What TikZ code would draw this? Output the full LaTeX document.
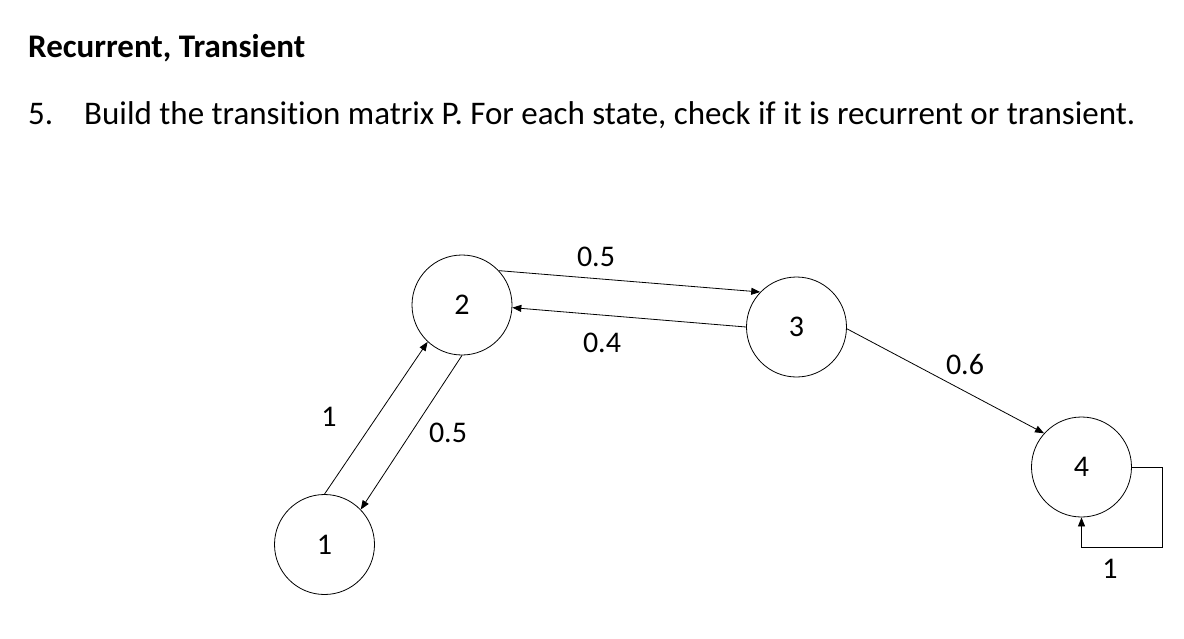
\documentclass[tikz,border=0pt]{standalone}
\usepackage{fontspec}
\setmainfont{Carlito}[Ligatures=NoCommon]
\usetikzlibrary{arrows.meta}
\begin{document}
\begin{tikzpicture}[x=1pt,y=-1pt,>={Triangle[length=9pt,width=7pt]},
  statenode/.style={circle,draw,line width=0.8pt,minimum size=100pt,inner sep=0pt,
    font=\fontsize{30}{36}\selectfont},
  prob/.style={inner sep=0pt,font=\fontsize{30}{36}\selectfont},
  edge/.style={->,line width=0.8pt}]
\useasboundingbox (0,0) rectangle (1184,638);
% heading and task
\node[anchor=base west,inner sep=0pt,font=\fontsize{33}{40}\selectfont\bfseries] (title) at (28,57) {Recurrent, Transient};
\node[anchor=base west,inner sep=0pt,font=\fontsize{33}{40}\selectfont] (num) at (28,124) {5.};
\node[anchor=base west,inner sep=0pt,font=\fontsize{33}{40}\selectfont] (task) at (84,124)
  {Build the transition matrix P. For each state, check if it is recurrent or transient.};
% states
\node[statenode] (s1) at (324.5,544.5) {1};
\node[statenode] (s2) at (462,305) {2};
\node[statenode] (s3) at (796.5,327) {3};
\node[statenode] (s4) at (1081.5,467) {4};
\coordinate (c4a) at (1162,467);
\coordinate (c4b) at (1162,547);
\coordinate (c4c) at (1081.5,547);
% transitions
\draw[edge] (s1.90) -- (s2.227);
\draw[edge] (s2.270) -- (s1.44);
\draw[edge] (s2.43) -- (s3.136);
\draw[edge] (s3.180) -- (s2.-3);
\draw[edge] (s3.-2) -- (s4.138);
\draw[edge] (s4.east) -- (c4a) -- (c4b) -- (c4c) -- (s4.south);
% probabilities
\node[prob] (p12) at (329,417) {1};
\node[prob] (p21) at (448,433) {0.5};
\node[prob] (p23) at (596,257) {0.5};
\node[prob] (p32) at (602,343) {0.4};
\node[prob] (p34) at (965,364) {0.6};
\node[prob] (p44) at (1110,569) {1};
\end{tikzpicture}
\end{document}
